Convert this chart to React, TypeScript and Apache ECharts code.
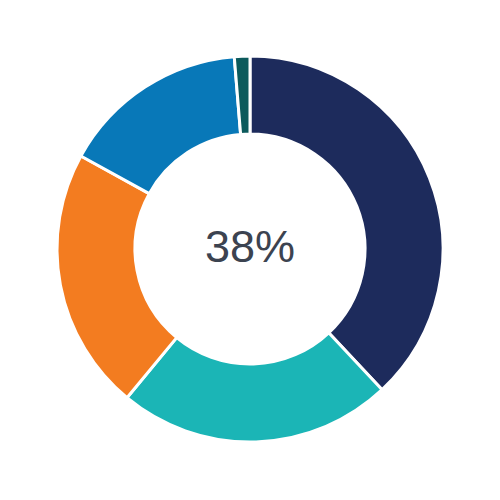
import { useRef, useEffect } from 'react'
import * as echarts from 'echarts'

const labels = ['A', 'B', 'C', 'D', 'E']
const values = [38, 23, 22, 15.7, 1.3]
const colors = ['#1d2b5c', '#1bb5b6', '#f37c20', '#0878b8', '#0c5a5c']
const centerText = '38%'

export default function App() {
  const chartRef = useRef<HTMLDivElement>(null)

  useEffect(() => {
    if (!chartRef.current) return
    document.body.style.margin = '0'
    const instance = echarts.init(chartRef.current, null, { renderer: 'svg' })
    instance.setOption({
      animation: false,
      graphic: [
        {
          type: 'text',
          x: 250,
          y: 246,
          style: {
            text: centerText,
            fontSize: 45,
            fontFamily: 'Liberation Sans, Arial, sans-serif',
            fill: '#3c4350',
            align: 'center',
            verticalAlign: 'middle',
          },
        },
      ],
      series: [
        {
          type: 'pie',
          center: [250, 249],
          radius: [115, 193],
          startAngle: 90,
          clockwise: true,
          label: { show: false },
          labelLine: { show: false },
          itemStyle: { borderColor: '#fff', borderWidth: 3 },
          emphasis: { disabled: true },
          data: values.map((v, i) => ({
            name: labels[i],
            value: v,
            itemStyle: { color: colors[i] },
          })),
        },
      ],
    })
    return () => {
      instance.dispose()
    }
  }, [])

  return <div ref={chartRef} style={{ width: 500, height: 500 }} />
}
